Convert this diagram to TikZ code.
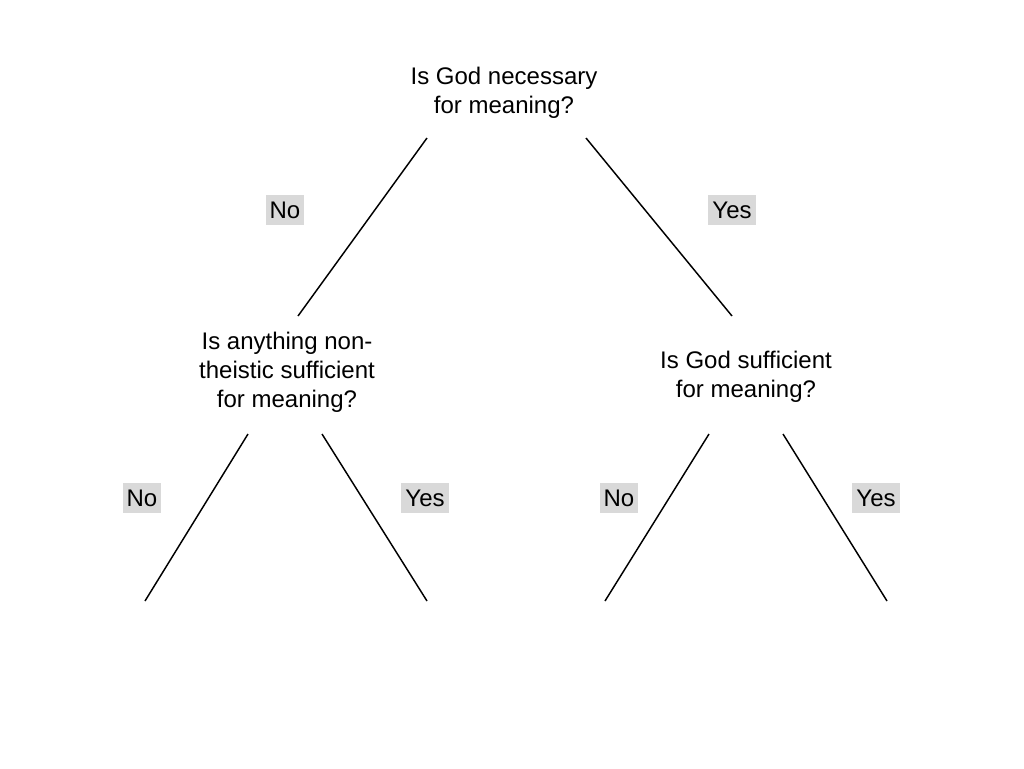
\documentclass[tikz,border=0pt]{standalone}
\usepackage{fontspec}
\setmainfont{Liberation Sans}
\begin{document}
\begin{tikzpicture}[x=0.75pt,y=-0.75pt,
  q/.style={align=center,font=\fontsize{18}{21.75}\selectfont},
  lab/.style={fill=black!15,inner xsep=3pt,inner ysep=5pt,font=\fontsize{18}{20}\selectfont},
  br/.style={line width=1.1pt}]
\useasboundingbox (0,0) rectangle (1024,768);
\node[q] (top) at (504,93) {Is God necessary\\for meaning?};
\node[q] (left) at (287,372) {Is anything non-\\theistic sufficient\\for meaning?};
\node[q] (right) at (746,377) {Is God sufficient\\for meaning?};
\coordinate (t1) at (427,138); \coordinate (l0) at (298,316);
\coordinate (t2) at (586,138); \coordinate (r0) at (732,316);
\coordinate (l1) at (248,434); \coordinate (ll) at (145,601);
\coordinate (l2) at (322,434); \coordinate (lr) at (427,601);
\coordinate (r1) at (709,434); \coordinate (rl) at (605,601);
\coordinate (r2) at (783,434); \coordinate (rr) at (887,601);
\draw[br] (t1) -- (l0);
\draw[br] (t2) -- (r0);
\draw[br] (l1) -- (ll);
\draw[br] (l2) -- (lr);
\draw[br] (r1) -- (rl);
\draw[br] (r2) -- (rr);
\node[lab] (n1) at (285,210) {No};
\node[lab] (y1) at (732,210) {Yes};
\node[lab] (n2) at (142,498) {No};
\node[lab] (y2) at (425,498) {Yes};
\node[lab] (n3) at (619,498) {No};
\node[lab] (y3) at (876,498) {Yes};
\end{tikzpicture}
\end{document}
